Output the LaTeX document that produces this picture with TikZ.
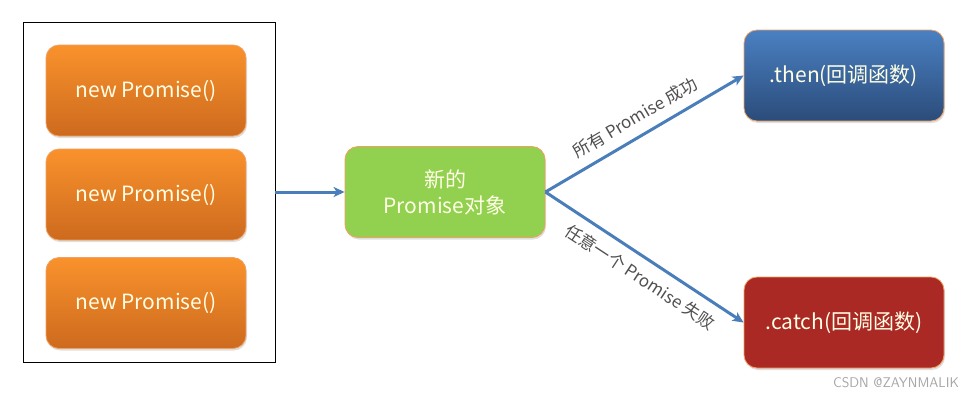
\documentclass[tikz,border=0pt]{standalone}
\usepackage{fontspec}
\setmainfont{Noto Sans CJK SC}
\usetikzlibrary{arrows.meta,shadows}
\definecolor{orT}{HTML}{F9922C}
\definecolor{orB}{HTML}{CD6A1E}
\definecolor{grn}{HTML}{92D050}
\definecolor{bdr}{HTML}{F0A060}
\definecolor{bluT}{HTML}{4A80C2}
\definecolor{bluB}{HTML}{2B4C7A}
\definecolor{redb}{HTML}{AA2925}
\definecolor{arr}{HTML}{4A7EBB}
\definecolor{txt}{HTML}{FFFFE6}
\definecolor{lbl}{HTML}{505050}
\tikzset{
  box/.style={rounded corners=13pt, minimum width=200pt, minimum height=91pt, draw=bdr, line width=0.8pt,
    text=txt, font=\fontsize{21}{26}\selectfont, align=center, inner sep=0pt,
    drop shadow={shadow xshift=1pt, shadow yshift=-2pt, opacity=0.25}},
  orbox/.style={box, top color=orT, bottom color=orB},
  conn/.style={draw=arr, line width=3pt, -{Stealth[length=11pt,width=10pt,inset=3pt]}},
  lab/.style={text=lbl, font=\fontsize{17}{20}\selectfont}
}
\begin{document}
\begin{tikzpicture}[x=1pt,y=-1pt]
\useasboundingbox (0,0) rectangle (978,400);
\node[draw=black, line width=0.8pt, minimum width=252pt, minimum height=340pt, inner sep=0pt] (frame) at (149,192) {};
\node[orbox] (p1) at (146,90.5) {new Promise()};
\node[orbox] (p2) at (146,194.5) {new Promise()};
\node[orbox] (p3) at (146,303) {new Promise()};
\node[box, fill=grn] (n) at (445,192) {新的\\Promise对象};
\node[box, top color=bluT, bottom color=bluB] (t) at (844,75.5) {.then(回调函数)};
\node[box, fill=redb] (c) at (844,322.5) {.catch(回调函数)};
\draw[conn] (frame.east) -- (n.west);
\draw[conn] (n.east) -- node[lab, sloped, above=6pt, pos=0.5] (l1) {所有 Promise 成功} (t.west);
\draw[conn] (n.east) -- node[lab, sloped, below=6pt, pos=0.53] (l2) {任意一个 Promise 失败} (c.west);
\node[text=gray!70, font=\fontsize{14}{16}\selectfont\sffamily] (wm) at (896,383) {CSDN @ZAYNMALIK};
\end{tikzpicture}
\end{document}
